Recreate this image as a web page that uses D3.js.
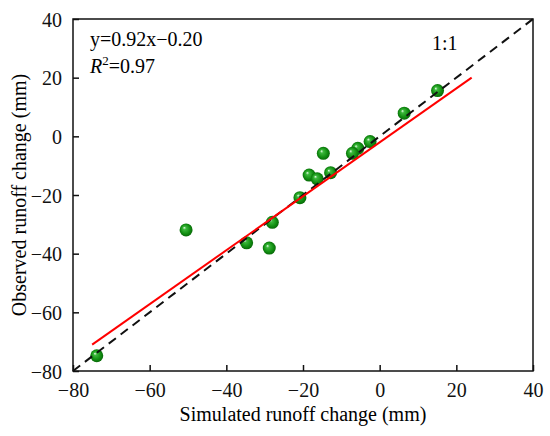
<!DOCTYPE html>
<html>
<head>
<meta charset="utf-8">
<script src="https://cdn.jsdelivr.net/npm/d3@7"></script>
<style>
  body { margin: 0; background: #fff; }
</style>
</head>
<body>
<div class="visHolder"></div>
<script>
// simulated vs observed runoff change (mm)
var simulated = [15.1, 6.4, -2.5, -5.7, -7.1, -14.7, -12.8, -18.4, -16.3, -20.8, -50.5, -28.0, -34.7, -28.8, -73.8];
var observed  = [15.6, 7.9, -1.8, -4.1, -5.8, -5.8, -12.4, -13.2, -14.5, -20.9, -31.9, -29.3, -36.3, -38.1, -74.8];
var ticks = [-80, -60, -40, -20, 0, 20, 40];
var fitX = [-75, 24];
var fitY = [-71, 20];
var oneToOne = [-80, 40];

var FONT = 'Liberation Serif, serif';

var width = 550,
    height = 436,
    margin = { left: 73, right: 17, top: 19, bottom: 65 };

var svg = d3.select('.visHolder')
    .append('svg')
    .attr('width', width)
    .attr('height', height)
    .style('font-family', FONT);

var xScale = d3.scaleLinear().domain([-80, 40]).range([margin.left, width - margin.right]);
var yScale = d3.scaleLinear().domain([-80, 40]).range([height - margin.bottom, margin.top]);

var defs = svg.append('defs');
var grad = defs.append('radialGradient')
    .attr('id', 'ball')
    .attr('cx', '50%').attr('cy', '50%').attr('r', '55%')
    .attr('fx', '35%').attr('fy', '32%');
grad.append('stop').attr('offset', '0%').attr('stop-color', '#f0fff0');
grad.append('stop').attr('offset', '22%').attr('stop-color', '#3cb83c');
grad.append('stop').attr('offset', '65%').attr('stop-color', '#128f12');
grad.append('stop').attr('offset', '100%').attr('stop-color', '#056005');

var minus = function (d) { return d < 0 ? '\u2212' + Math.abs(d) : d; };

// axes with inward ticks
var xAxis = d3.axisBottom(xScale).tickValues(ticks).tickSize(-6).tickPadding(12).tickFormat(minus);
var yAxis = d3.axisLeft(yScale).tickValues(ticks).tickSize(-6).tickPadding(11).tickFormat(minus);

var gx = svg.append('g')
    .attr('transform', 'translate(0,' + (height - margin.bottom) + ')')
    .call(xAxis);
var gy = svg.append('g')
    .attr('transform', 'translate(' + margin.left + ',0)')
    .call(yAxis);

[gx, gy].forEach(function (g) {
    g.attr('font-family', null).attr('font-size', null);
    g.select('.domain').remove();
    g.selectAll('line').attr('stroke', '#111').attr('stroke-width', 1.5);
    g.selectAll('text')
        .attr('fill', '#111')
        .style('font-family', FONT)
        .style('font-size', '20px');
});
gy.selectAll('text').attr('dy', '0.36em');

// plot box
svg.append('rect')
    .attr('x', margin.left)
    .attr('y', margin.top)
    .attr('width', width - margin.left - margin.right)
    .attr('height', height - margin.top - margin.bottom)
    .attr('fill', 'none')
    .attr('stroke', '#111')
    .attr('stroke-width', 1.5);

// points
svg.append('g')
    .selectAll('circle')
    .data(simulated)
    .enter()
    .append('circle')
    .attr('cx', function (d) { return xScale(d); })
    .attr('cy', function (d, i) { return yScale(observed[i]); })
    .attr('r', 6.5)
    .attr('fill', 'url(#ball)');

// 1:1 line
svg.append('line')
    .attr('x1', xScale(oneToOne[0])).attr('y1', yScale(oneToOne[0]))
    .attr('x2', xScale(oneToOne[1])).attr('y2', yScale(oneToOne[1]))
    .attr('stroke', '#111')
    .attr('stroke-width', 2)
    .attr('stroke-dasharray', '9,6');

// fitted line
svg.append('line')
    .attr('x1', xScale(fitX[0])).attr('y1', yScale(fitY[0]))
    .attr('x2', xScale(fitX[1])).attr('y2', yScale(fitY[1]))
    .attr('stroke', '#f00')
    .attr('stroke-width', 2);

// annotations
svg.append('text')
    .attr('x', 90).attr('y', 46)
    .style('font-size', '20px')
    .text('y=0.92x\u22120.20');

var r2 = svg.append('text')
    .attr('x', 90).attr('y', 73)
    .style('font-size', '20px');
r2.append('tspan').style('font-style', 'italic').text('R');
r2.append('tspan').attr('dy', -8).style('font-size', '13px').text('2');
r2.append('tspan').attr('dy', 8).text('=0.97');

svg.append('text')
    .attr('x', 432).attr('y', 50)
    .style('font-size', '20px')
    .text('1:1');

// axis titles
svg.append('text')
    .attr('x', (margin.left + width - margin.right) / 2)
    .attr('y', 421)
    .attr('text-anchor', 'middle')
    .style('font-size', '20px')
    .text('Simulated runoff change (mm)');

svg.append('text')
    .attr('transform', 'rotate(-90)')
    .attr('x', -(margin.top + height - margin.bottom) / 2)
    .attr('y', 26)
    .attr('text-anchor', 'middle')
    .style('font-size', '20px')
    .text('Observed runoff change (mm)');
</script>
</body>
</html>
